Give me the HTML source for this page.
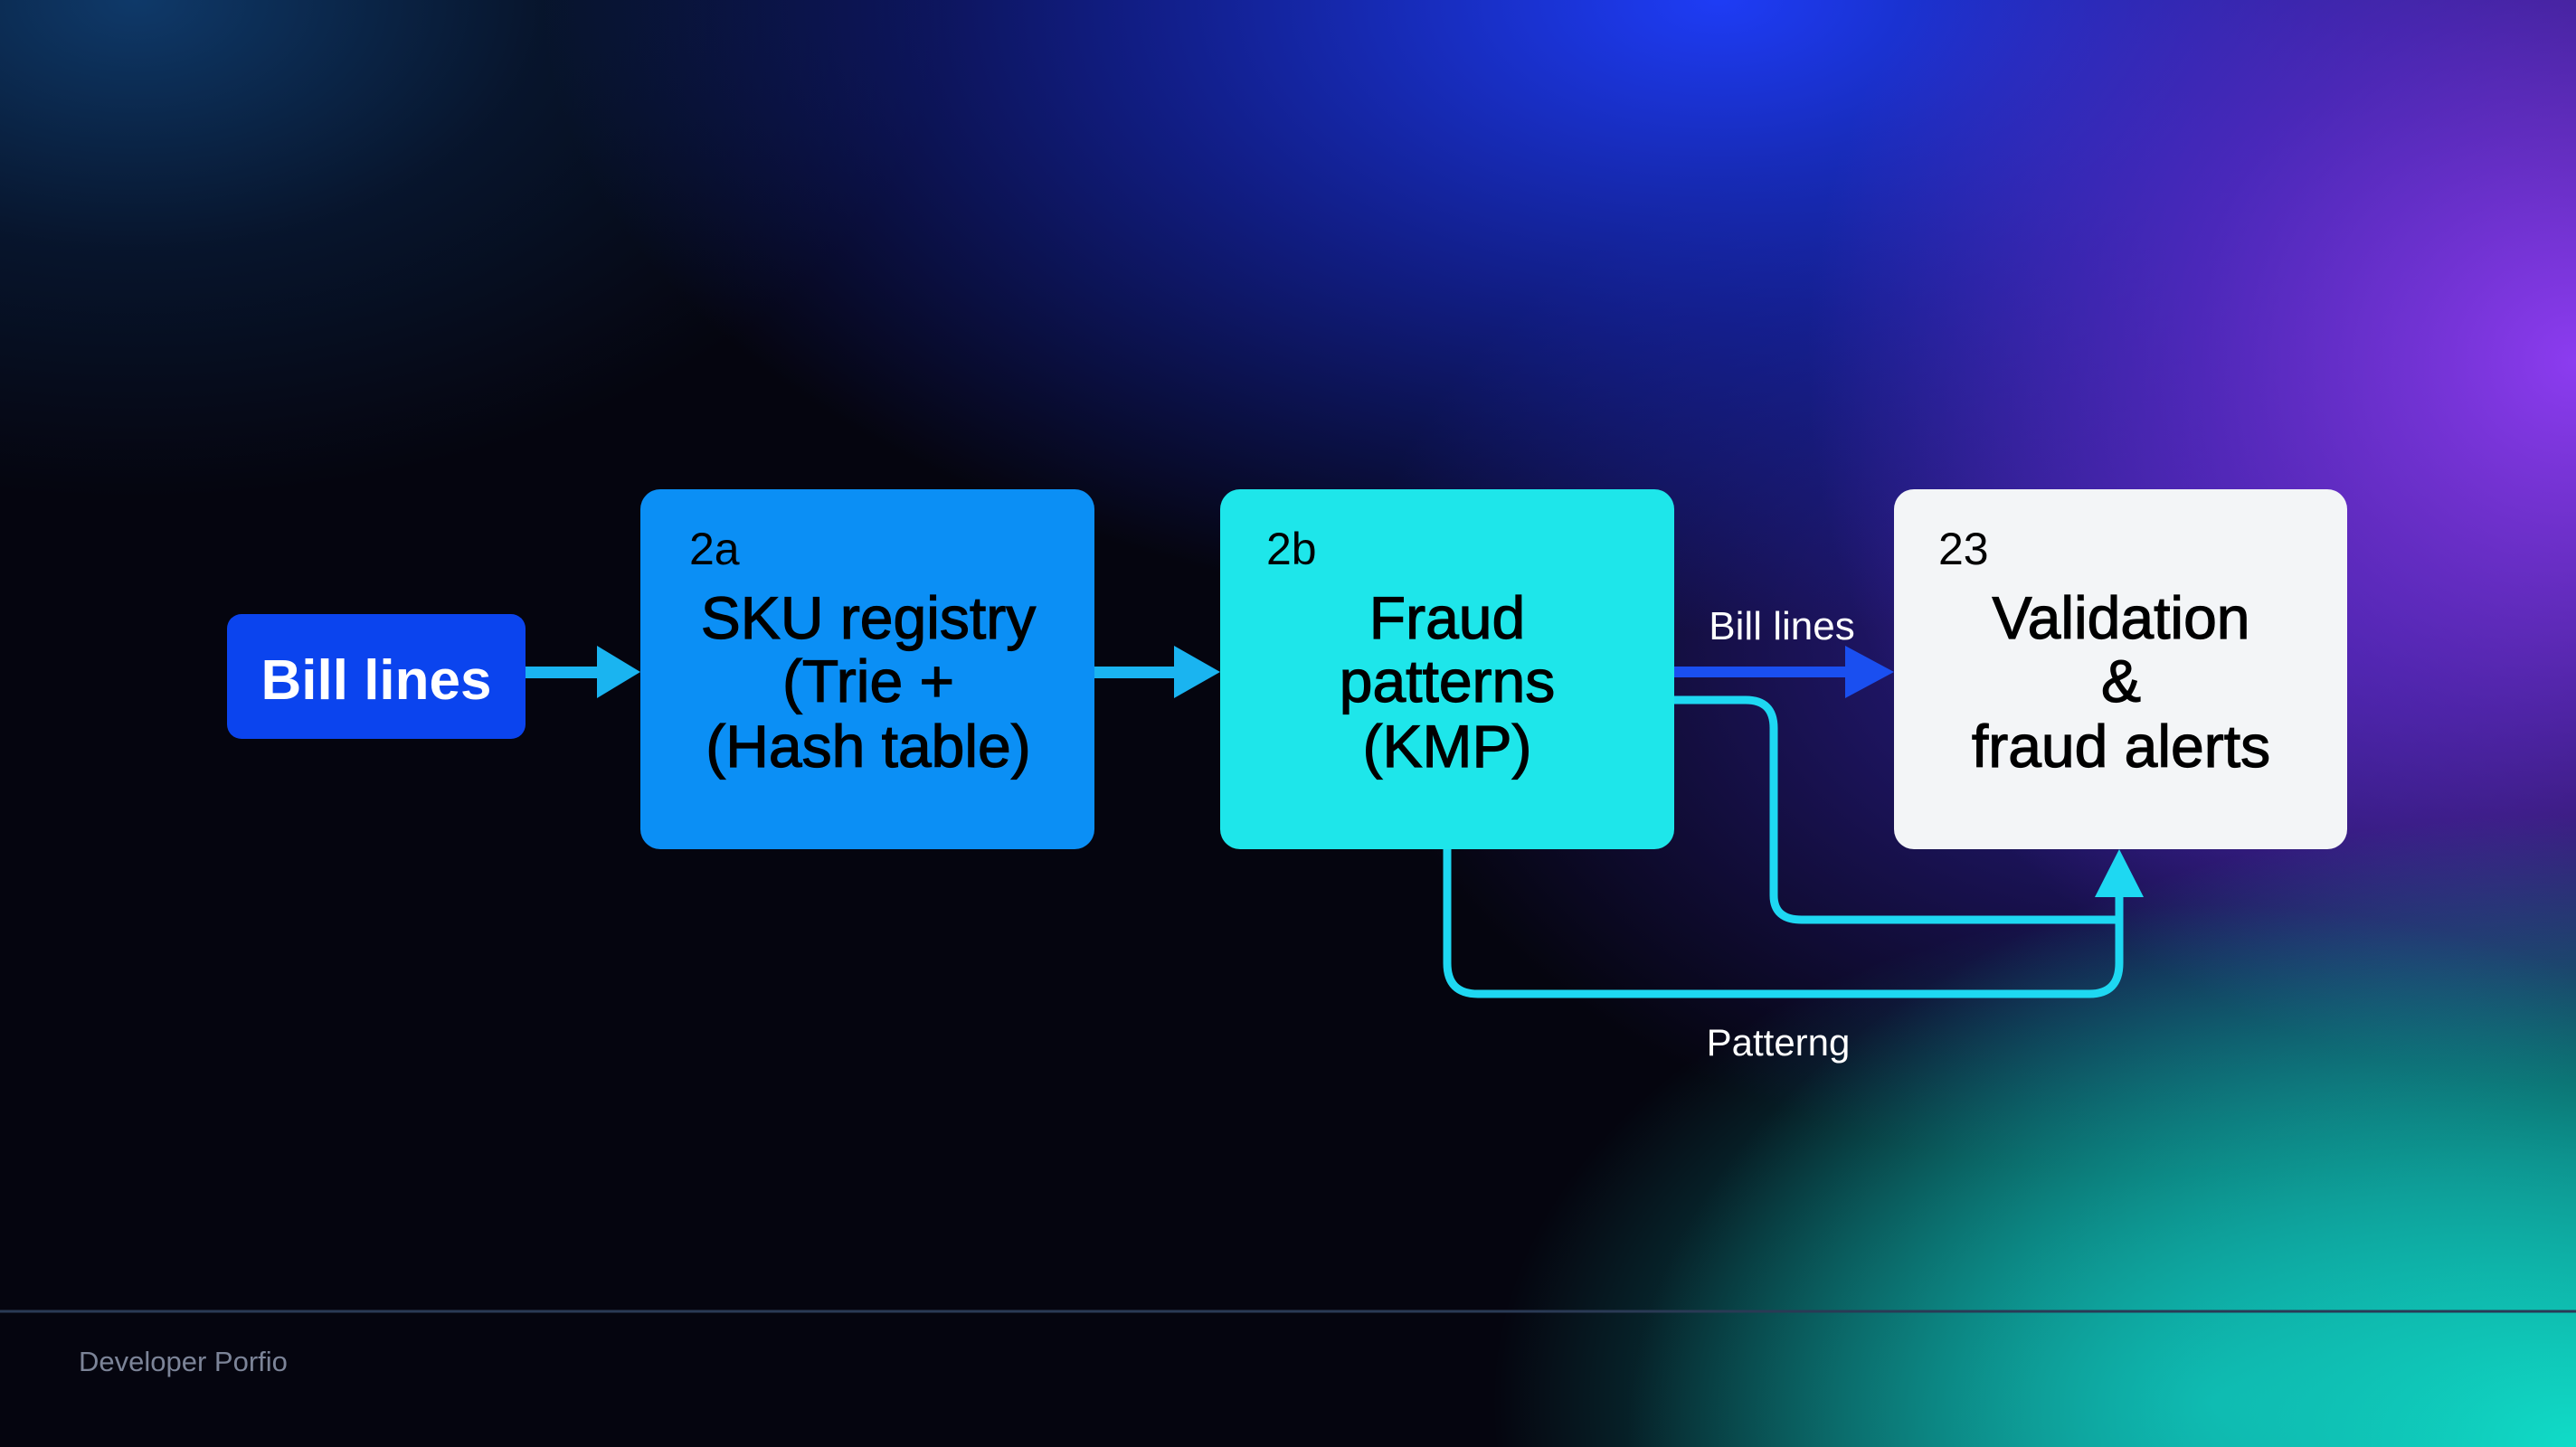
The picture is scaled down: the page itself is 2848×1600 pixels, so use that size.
<!DOCTYPE html>
<html><head><meta charset="utf-8"><style>
html,body{margin:0;padding:0}
body{width:2848px;height:1600px;overflow:hidden;position:relative;background:#05050f;font-family:"Liberation Sans",sans-serif}
.bg{position:absolute;inset:0;background:
radial-gradient(ellipse 1050px 700px at 2848px 1600px,rgba(16,220,200,1),rgba(16,200,190,0.65) 45%,rgba(16,200,190,0) 100%),
radial-gradient(ellipse 800px 550px at 2450px 1550px,rgba(16,200,190,0.75),rgba(16,200,190,0) 100%),
radial-gradient(ellipse 850px 800px at 2848px 400px,rgba(140,60,240,1),rgba(120,50,230,0.55) 50%,rgba(120,50,230,0) 100%),
radial-gradient(ellipse 1300px 700px at 1900px 0px,rgba(30,60,245,1),rgba(25,45,210,0.6) 50%,rgba(20,30,150,0) 100%),
radial-gradient(ellipse 900px 600px at 2400px 700px,rgba(60,40,200,0.7),rgba(40,30,160,0) 100%),
radial-gradient(ellipse 900px 550px at 150px 0px,rgba(15,60,110,0.95),rgba(10,40,80,0.45) 50%,rgba(5,5,15,0) 100%);}
</style></head><body>
<div class="bg"></div>
<svg width="2848" height="1600" style="position:absolute;left:0;top:0">
<line x1="0" y1="1450" x2="2848" y2="1450" stroke="#2a3a55" stroke-width="3"/>
<g fill="none" stroke="#1ed8f2" stroke-width="9" stroke-linejoin="round">
<path d="M1851 774 H1930 Q1961 774 1961 805 V990 Q1961 1017 1992 1017 H2343"/>
<path d="M1600 939 V1065 Q1600 1099 1634 1099 H2310 Q2343 1099 2343 1065 V985"/>
</g>
<polygon points="2343,939 2316,992 2370,992" fill="#1ed8f2"/>
<rect x="581" y="737" width="90" height="13" fill="#1ab4f0"/>
<polygon points="708,743 660,714 660,772" fill="#1ab4f0"/>
<rect x="1210" y="737" width="92" height="13" fill="#1ab4f0"/>
<polygon points="1349,743 1298,714 1298,772" fill="#1ab4f0"/>
<rect x="1851" y="737" width="200" height="12" fill="#1a4ff0"/>
<polygon points="2094,743 2040,714 2040,772" fill="#1a4ff0"/>
<rect x="251" y="679" width="330" height="138" rx="16" fill="#0b44ee"/>
<rect x="708" y="541" width="502" height="398" rx="22" fill="#0b8ff5"/>
<rect x="1349" y="541" width="502" height="398" rx="22" fill="#1ee6ea"/>
<rect x="2094" y="541" width="501" height="398" rx="22" fill="#f3f5f7"/>
<text x="416" y="773" font-size="62" font-weight="bold" fill="#fff" text-anchor="middle">Bill lines</text>
<g font-size="50" fill="#000">
<text x="762" y="624">2a</text><text x="1400" y="624">2b</text><text x="2143" y="624">23</text>
</g>
<g font-size="66" fill="#000" text-anchor="middle" stroke="#000" stroke-width="1.2">
<text x="960" y="706">SKU registry</text><text x="960" y="776">(Trie +</text><text x="960" y="848">(Hash table)</text>
<text x="1600" y="706">Fraud</text><text x="1600" y="776">patterns</text><text x="1600" y="848">(KMP)</text>
<text x="2345" y="706">Validation</text><text x="2345" y="776">&amp;</text><text x="2345" y="848">fraud alerts</text>
</g>
<text x="1970" y="707" font-size="44" fill="#fff" text-anchor="middle">Bill lines</text>
<text x="1966" y="1167" font-size="42" fill="#fff" text-anchor="middle">Patterng</text>
<text x="87" y="1516" font-size="31" fill="#7c8498">Developer Porfio</text>
</svg>
</body></html>
